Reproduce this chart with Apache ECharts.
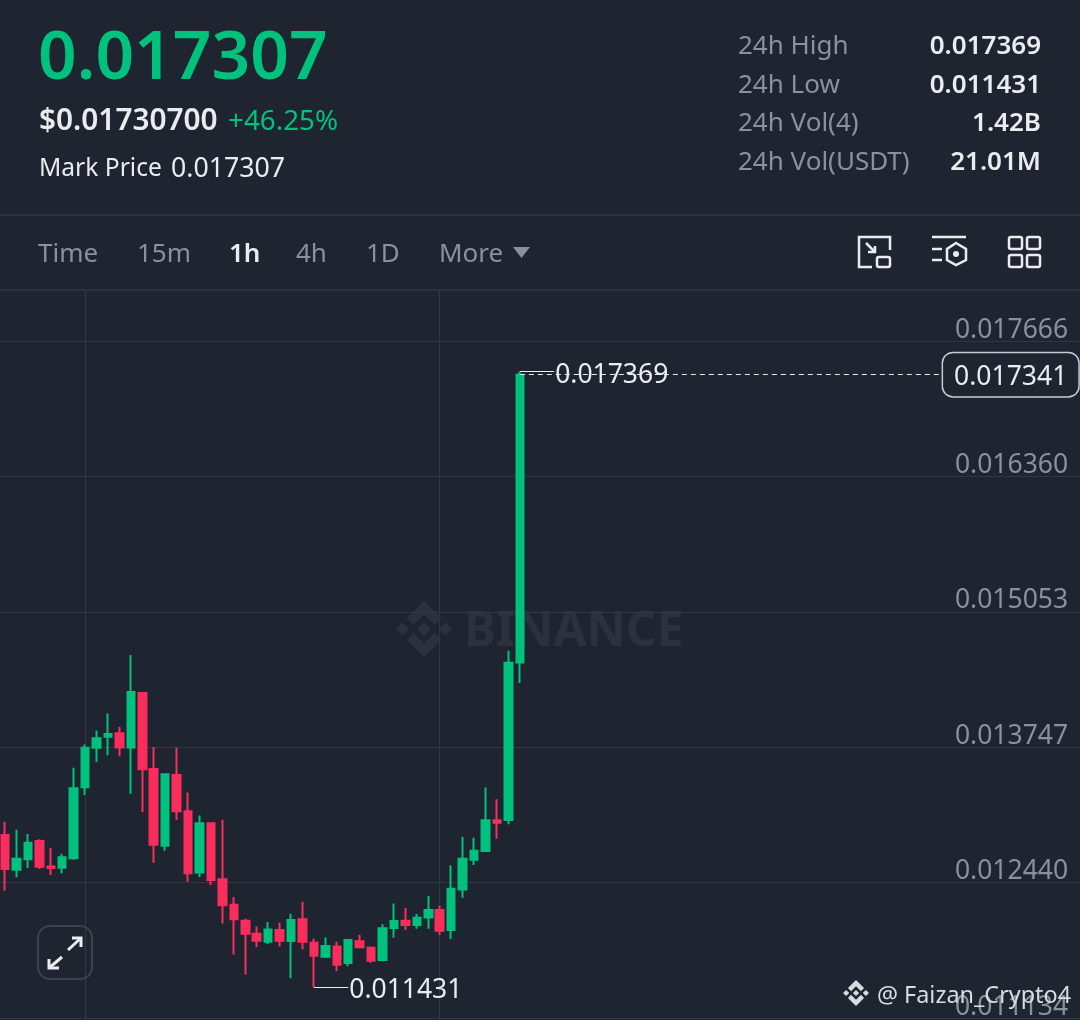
<!DOCTYPE html>
<html><head><meta charset="utf-8">
<style>html,body{margin:0;padding:0;background:#1E2530}#c{width:1080px;height:1020px}</style>
<script src="https://cdn.jsdelivr.net/npm/echarts@6/dist/echarts.min.js"></script>
</head><body><div id="c"></div>
<script>
// [open, close, low, high]
const candles = [
[0.012900,0.012572,0.012363,0.013028],[0.012565,0.012671,0.012491,0.012951],[0.012665,0.012826,0.012581,0.012909],
[0.012842,0.012594,0.012572,0.012858],[0.012597,0.012581,0.012514,0.012774],[0.012584,0.012684,0.012530,0.012720],
[0.012675,0.013350,0.012662,0.013549],[0.013360,0.013742,0.013286,0.013774],[0.013742,0.013832,0.013604,0.013909],
[0.013848,0.013874,0.013668,0.014073],[0.013881,0.013745,0.013659,0.013942],[0.013745,0.014279,0.013298,0.014636],
[0.014270,0.013533,0.013122,0.014276],[0.013536,0.012806,0.012633,0.013749],[0.012797,0.013485,0.012748,0.013491],
[0.013479,0.013128,0.013044,0.013742],[0.013128,0.012530,0.012449,0.013311],[0.012539,0.013012,0.012494,0.013089],
[0.013012,0.012465,0.012417,0.013019],[0.012472,0.012221,0.012047,0.013048],[0.012227,0.012086,0.011748,0.012301],
[0.012073,0.011948,0.011555,0.012092],[0.011948,0.011880,0.011819,0.012018],[0.011871,0.011989,0.011848,0.012060],
[0.011983,0.011880,0.011825,0.012054],[0.011877,0.012080,0.011517,0.012141],[0.012086,0.011871,0.011797,0.012256],
[0.011861,0.011735,0.011431,0.011899],[0.011726,0.011829,0.011713,0.011912],[0.011825,0.011649,0.011588,0.011871],
[0.011665,0.011887,0.011633,0.011896],[0.011874,0.011816,0.011816,0.011935],[0.011813,0.011687,0.011668,0.011825],
[0.011694,0.011999,0.011681,0.012038],[0.012002,0.012070,0.011909,0.012240],[0.012073,0.012031,0.011983,0.012195],
[0.012031,0.012102,0.011996,0.012137],[0.012105,0.012176,0.011996,0.012311],[0.012176,0.011977,0.011935,0.012218],
[0.011983,0.012382,0.011896,0.012607],[0.012375,0.012671,0.012295,0.012880],[0.012662,0.012748,0.012610,0.012874],
[0.012745,0.013041,0.012745,0.013359],[0.013041,0.013019,0.012864,0.013244],[0.013044,0.014562,0.013003,0.014678],
[0.014565,0.017341,0.014366,0.017369]
];
const priceTicks = [0.017666,0.016360,0.015053,0.013747,0.012440,0.011134];
const highPrice = 0.017369, lowPrice = 0.011431, lastPrice = 0.017341;
const highIndex = 45, lowIndex = 27, lastIndex = 45;
const guideIndexes = [7, 38];
const statLabels = ['24h High','24h Low','24h Vol(4)','24h Vol(USDT)'];
const statValues = ['0.017369','0.011431','1.42B','21.01M'];
const tabLabels = ['Time','15m','1h','4h','1D','More'];
const categories = []; for (let i = 0; i < 95; i++) categories.push('c' + i);

const BG='#1E2530', GREEN='#01C27C', RED='#FB2D5C', GRID='#303743', DIM='#8A919D', WHITE='#EAECEF', FONT='"Noto Sans"';
const bandW = 11.44;
const T=(x,y,text,size,fill,weight,align)=>({type:'text',x,y,z:10,style:{text,fontSize:size,fontFamily:FONT,fontWeight:weight||400,fill,textAlign:align||'left',textVerticalAlign:'middle'}});
const PL=(pts,stroke,w)=>({type:'polyline',z:10,shape:{points:pts},style:{stroke:stroke||WHITE,lineWidth:w||2.5,fill:null}});
const R=(x,y,w,h,r,stroke,lw)=>({type:'rect',z:10,shape:{x,y,width:w,height:h,r},style:{stroke:stroke||WHITE,lineWidth:lw||2.5,fill:null}});
const diamond=(cx,cy,r,fill,z)=>({type:'polygon',z:z,shape:{points:[[cx,cy-r],[cx+r,cy],[cx,cy+r],[cx-r,cy]]},style:{fill}});
function logo(cx,cy,s,fill,z){
  const chev=(pts)=>({type:'polygon',z,shape:{points:pts.map(p=>[cx+p[0]*s,cy+p[1]*s])},style:{fill}});
  return [diamond(cx,cy,0.24*s,fill,z),diamond(cx-0.76*s,cy,0.24*s,fill,z),diamond(cx+0.76*s,cy,0.24*s,fill,z),
    chev([[0,-1],[0.62,-0.38],[0.38,-0.14],[0,-0.52],[-0.38,-0.14],[-0.62,-0.38]]),
    chev([[0,1],[0.62,0.38],[0.38,0.14],[0,0.52],[-0.38,0.14],[-0.62,0.38]])];
}
const statYs=[47,86,124,163];
const tabXs=[38,137,229,296,366,439];
const graphics=[
  T(38,60,'0.017307',67.7,GREEN,600),
  T(39,122,'$0.01730700',29.8,WHITE,600),
  T(228,122,'+46.25%',27.8,GREEN,400),
  T(39,169,'Mark Price',24.6,WHITE,400),
  T(171,169,'0.017307',26.7,WHITE,400),
  {type:'line',z:1,shape:{x1:0,y1:215,x2:1080,y2:215},style:{stroke:GRID,lineWidth:1.5}},
  {type:'line',z:1,shape:{x1:0,y1:290,x2:1080,y2:290},style:{stroke:GRID,lineWidth:1.5}},
  {type:'polygon',z:10,shape:{points:[[513,247],[530,247],[521.5,258]]},style:{fill:DIM}},
  // icon 1
  PL([[872,267],[859,267],[859,237],[890,237],[890,250]]),R(877,257,13,10,2),
  PL([[866,243],[875,252]]),PL([[875,246],[875,252],[868,252]]),
  // icon 2
  PL([[932,237],[966,237]]),PL([[932,249],[942,249]]),PL([[932,260],[942,260]]),
  {type:'polygon',z:10,shape:{points:[[956,243],[966,249],[966,260],[956,265],[947,260],[947,249]]},style:{stroke:WHITE,lineWidth:2.5,fill:null}},
  {type:'circle',z:10,shape:{cx:956,cy:254,r:3},style:{fill:WHITE}},
  // icon 3
  R(1009,237,13,12,2),R(1027,237,13,12,2),R(1009,255,13,12,2),R(1027,255,13,12,2),
  // expand button
  R(38,926,54,53,12,'#3A424E',2),
  PL([[68,950],[81,938]],WHITE,3),PL([[72,938],[81,938],[81,947]],WHITE,3),
  PL([[62,957],[49,968]],WHITE,3),PL([[49,959],[49,968],[59,968]],WHITE,3),
  // watermark
  {type:'text',x:464,y:632,z:0,style:{text:'BINANCE',fontSize:48,fontFamily:FONT,fontWeight:700,fill:'#2A323D',textVerticalAlign:'middle'}},
  ...logo(424,629,28,'#2A323D',0),
  ...logo(856,993,13,'#D8DBDF',10),
  T(877,996,'@ Faizan_Crypto4',23.4,'#D8DBDF',400)
];
statLabels.forEach((s,i)=>{graphics.push(T(738,statYs[i],s,26,DIM,400));graphics.push(T(1041,statYs[i],statValues[i],26,WHITE,600,'right'));});
tabLabels.forEach((s,i)=>{graphics.push(T(tabXs[i],255,s,26,i===2?WHITE:DIM,i===2?600:400));});

const chart=echarts.init(document.getElementById('c'),null,{renderer:'canvas'});
const leader=(idx,val)=>[{coord:[categories[idx],val]},{coord:[categories[idx+3],val]}];
const richNum={v:{color:WHITE,fontSize:26.5,fontFamily:FONT,padding:[7,0,0,0]}};
const endLabel=(val)=>({show:true,position:'end',distance:1,formatter:'{v|'+val.toFixed(6)+'}',rich:richNum});
const leaderLine={color:WHITE,width:1.2,type:'solid'};
chart.setOption({
  animation:false,backgroundColor:BG,
  grid:{left:-0.7,top:291,width:categories.length*bandW,height:729,containLabel:false,outerBoundsMode:'none'},
  xAxis:{type:'category',data:categories,boundaryGap:true,axisLine:{show:false},axisTick:{show:false},axisLabel:{show:false},splitLine:{show:false}},
  yAxis:{type:'value',position:'right',min:0.011115,max:0.018148,scale:true,
    axisLine:{show:false},
    axisTick:{show:false,customValues:priceTicks},
    splitLine:{show:true,lineStyle:{color:GRID,width:1.2}},
    axisLabel:{inside:true,customValues:priceTicks,margin:18,color:DIM,fontSize:26.5,lineHeight:22,fontFamily:FONT,align:'right',verticalAlign:'bottom',formatter:v=>v.toFixed(6)}},
  graphic:graphics,
  series:[
    {type:'line',data:[],z:1,silent:true,markLine:{z:1,silent:true,symbol:'none',label:{show:false},lineStyle:{color:GRID,width:1.2,type:'solid'},data:guideIndexes.map(i=>({xAxis:categories[i]}))}},
    {type:'candlestick',z:3,data:candles,barWidth:8,
      itemStyle:{color:GREEN,color0:RED,borderColor:GREEN,borderColor0:RED,borderWidth:2},
      markLine:{z:6,silent:true,symbol:'none',precision:6,animation:false,
        data:[
          [leader(highIndex,highPrice)[0],Object.assign(leader(highIndex,highPrice)[1],{label:endLabel(highPrice),lineStyle:leaderLine})],
          [leader(lowIndex,lowPrice)[0],Object.assign(leader(lowIndex,lowPrice)[1],{label:endLabel(lowPrice),lineStyle:leaderLine})],
          [{coord:[categories[lastIndex],lastPrice]},{coord:[categories[82],lastPrice],label:{show:true,position:'end',distance:0,formatter:'{v|'+lastPrice.toFixed(6)+'}',rich:richNum,backgroundColor:BG,borderColor:'#C8CCD2',borderWidth:1.5,borderRadius:10,padding:[4,11,5,11]},lineStyle:{color:WHITE,width:1.2,type:[5,4]}}]
        ]}}
  ]
});
</script></body></html>
